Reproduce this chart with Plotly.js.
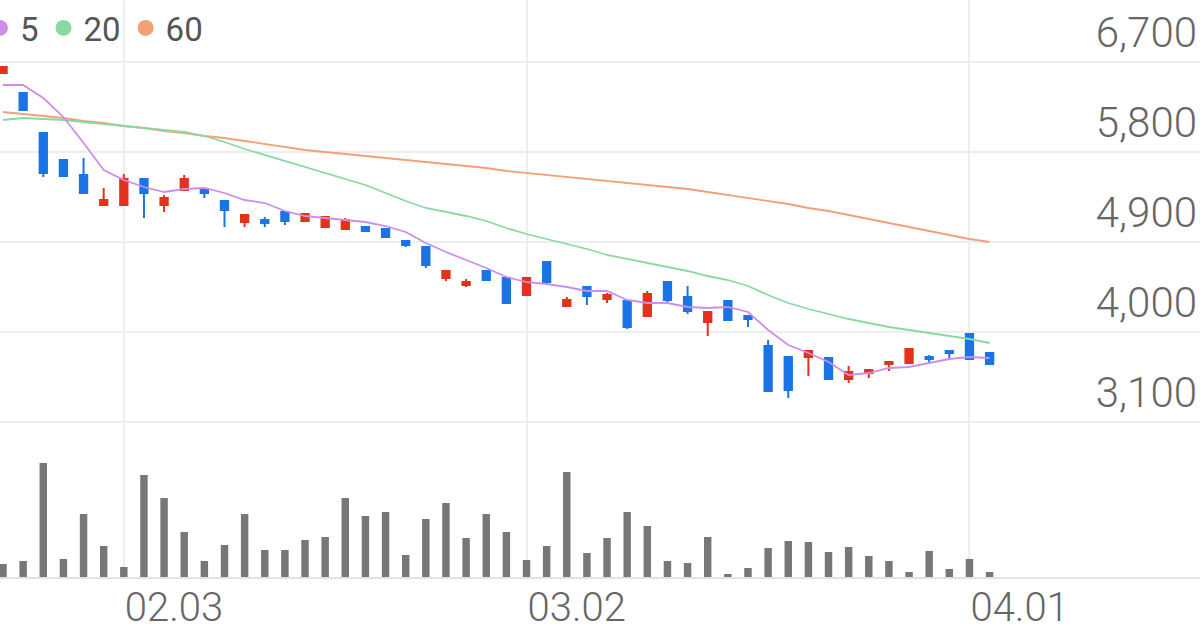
<!DOCTYPE html>
<html>
<head>
<meta charset="utf-8">
<script src="https://cdn.plot.ly/plotly-3.0.1.min.js"></script>
<style>html,body{margin:0;padding:0;background:#fff;}#chart{width:1200px;height:630px;}</style>
</head>
<body>
<div id="chart"></div>
<script>
// Trading days (MM.DD)
const dates = ["01.22","01.23","01.28","01.29","01.30","01.31",
  "02.03","02.04","02.05","02.06","02.07","02.10","02.11","02.12","02.13","02.14",
  "02.17","02.18","02.19","02.20","02.21","02.24","02.25","02.26","02.27","02.28",
  "03.02","03.03","03.04","03.05","03.06","03.09","03.10","03.11","03.12","03.13",
  "03.16","03.17","03.18","03.19","03.20","03.23","03.24","03.25","03.26","03.27",
  "03.30","03.31","04.01","04.02"];

const openP  = [6590,6390,5990,5720,5570,5270,5270,5530,5270,5420,5430,5310,5100,5120,5200,5110,5050,5030,5050,5030,
                4910,4850,4540,4470,4610,4540,4370,4700,4260,4450,4330,4310,4160,4500,4350,4100,4310,4160,3860,3750,
                3750,3740,3530,3590,3680,3690,3750,3810,3980,3790];
const highP  = [6660,6400,5990,5720,5740,5440,5580,5530,5370,5570,5430,5310,5170,5150,5200,5190,5150,5140,5060,5030,
                4910,4850,4610,4530,4610,4550,4540,4700,4350,4450,4390,4310,4410,4500,4460,4200,4310,4160,3920,3750,
                3810,3740,3660,3620,3700,3830,3770,3810,3980,3790];
const lowP   = [6580,6210,5550,5550,5380,5270,5270,5140,5200,5420,5340,5050,5050,5050,5070,5110,5050,5030,5000,4940,
                4850,4640,4510,4450,4520,4290,4370,4480,4260,4270,4290,4030,4160,4300,4180,3960,4120,4050,3410,3340,
                3560,3520,3490,3540,3610,3690,3690,3740,3730,3680];
const closeP = [6650,6220,5590,5560,5390,5320,5530,5390,5340,5530,5390,5220,5170,5090,5110,5180,5150,5120,5010,4950,
                4870,4670,4610,4500,4520,4290,4540,4500,4320,4360,4370,4050,4380,4320,4210,4200,4120,4130,3410,3420,
                3810,3530,3600,3620,3700,3830,3730,3790,3730,3680];

const volume = [130000,160000,1140000,180000,630000,310000,100000,1020000,790000,450000,
                160000,320000,630000,270000,270000,370000,400000,790000,610000,650000,
                220000,580000,740000,390000,630000,450000,170000,310000,1050000,240000,
                390000,650000,510000,160000,140000,400000,30000,90000,290000,360000,
                350000,250000,300000,210000,160000,50000,260000,80000,180000,50000];

// Moving averages
const ma5  = [6470,6470,6340,6150,5890,5620,5520,5450,5400,5430,5440,5390,5320,5290,5210,5160,5140,5120,5100,5060,
              5000,4890,4800,4720,4640,4550,4500,4480,4450,4410,4410,4320,4290,4290,4250,4240,4250,4200,4020,3870,
              3790,3700,3570,3590,3640,3650,3690,3730,3750,3740];
const ma20 = [6120,6140,6130,6120,6100,6080,6060,6040,6020,6000,5960,5900,5830,5770,5710,5650,5590,5530,5470,5390,
              5310,5240,5200,5160,5110,5040,4980,4930,4880,4830,4770,4730,4690,4650,4610,4560,4520,4460,4370,4290,
              4230,4180,4130,4090,4050,4020,3990,3960,3930,3890];
const ma60 = [6200,6180,6160,6140,6110,6090,6060,6040,6010,5990,5960,5940,5910,5880,5850,5820,5800,5780,5760,5740,
              5720,5700,5680,5660,5640,5610,5590,5570,5550,5530,5510,5490,5470,5450,5430,5400,5370,5340,5310,5280,
              5240,5210,5170,5130,5090,5050,5010,4970,4930,4900];

const priceTicks = [3100,4000,4900,5800,6700];
const dateTicks = ["02.03","03.02","04.01"];
const maNames = ["5","20","60"];

const RED = "#e3321c", BLUE = "#1a74e6";
const MA_COLORS = ["#cd8ee8","#8ad9a2","#f3a078"];
const FONT = "Roboto, 'Noto Sans', sans-serif";

const traces = [
  {type:"scatter", mode:"lines", x:dates, y:ma60, xaxis:"x", yaxis:"y",
   line:{color:MA_COLORS[2], width:1.8}, showlegend:false, hoverinfo:"skip"},
  {type:"scatter", mode:"lines", x:dates, y:ma20, xaxis:"x", yaxis:"y",
   line:{color:MA_COLORS[1], width:1.8}, showlegend:false, hoverinfo:"skip"},
  {type:"scatter", mode:"lines", x:dates, y:ma5, xaxis:"x", yaxis:"y",
   line:{color:MA_COLORS[0], width:1.8}, showlegend:false, hoverinfo:"skip"},
  {type:"candlestick", x:dates, open:openP, high:highP, low:lowP, close:closeP,
   xaxis:"x", yaxis:"y", showlegend:false, whiskerwidth:0,
   increasing:{line:{color:RED, width:2}, fillcolor:RED},
   decreasing:{line:{color:BLUE, width:2}, fillcolor:BLUE}},
  {type:"bar", x:dates, y:volume, xaxis:"x", yaxis:"y2", width:0.37,
   marker:{color:"#777777"}, showlegend:false},
];
maNames.forEach((n,i)=>{
  traces.push({type:"scatter", mode:"markers", x:[null], y:[null], name:n,
    marker:{color:MA_COLORS[i], size:16}, showlegend:true});
});

const layout = {
  width:1200, height:630,
  margin:{l:0, r:0, t:0, b:0, pad:0, autoexpand:false},
  paper_bgcolor:"#ffffff", plot_bgcolor:"#ffffff",
  showlegend:true,
  legend:{orientation:"h", x:-0.0167, y:1, xanchor:"left", yanchor:"top",
          bgcolor:"rgba(0,0,0,0)", font:{family:FONT, size:33, color:"#555555"},
          itemsizing:"trace", traceorder:"normal"},
  boxgap:0.48,
  xaxis:{type:"category", range:[-0.15, 59.45], anchor:"y2",
         tickmode:"array", tickvals:dateTicks, ticktext:dateTicks,
         showgrid:true, gridcolor:"#eeeeee", gridwidth:2,
         showline:true, linecolor:"#e2e2e2", linewidth:2,
         ticks:"", ticklabelposition:"outside right", ticklabelstandoff:-6,
         tickfont:{family:FONT, size:40, color:"#666666", weight:300},
         rangeslider:{visible:false}, fixedrange:true, automargin:false},
  yaxis:{domain:[0.3254, 1], range:[3070, 7320], side:"right",
         tickmode:"array", tickvals:priceTicks, tickformat:",d",
         ticklabelposition:"inside top",
         tickfont:{family:FONT, size:42, color:"#666666", weight:300}, ticks:"",
         showgrid:true, gridcolor:"#eeeeee", gridwidth:2, zeroline:false,
         fixedrange:true, automargin:false},
  yaxis2:{domain:[0.0841, 0.3254], range:[0, 1520000],
          showticklabels:false, showgrid:false, zeroline:false, fixedrange:true},
};

Plotly.newPlot("chart", traces, layout, {staticPlot:true, displayModeBar:false});
</script>
</body>
</html>
